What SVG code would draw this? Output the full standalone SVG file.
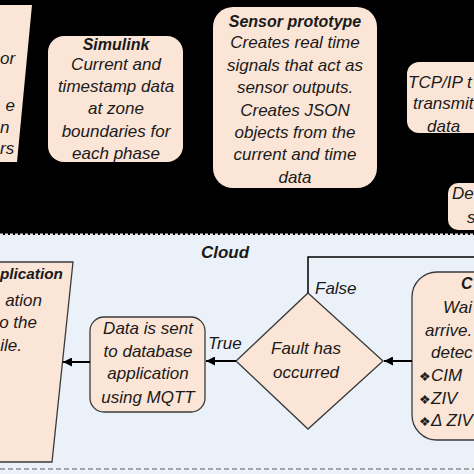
<svg xmlns="http://www.w3.org/2000/svg" width="474" height="474" viewBox="0 0 474 474">
<style>
.n{fill:#fbe5d6}
.s{stroke:#3a3a3a;stroke-width:1.3}
text{font-family:"Liberation Sans",Arial,sans-serif;font-style:italic;font-size:17px;fill:#1a1a1a}
.b{font-weight:bold;font-size:16px}
.c{text-anchor:middle}
.e{text-anchor:end}
.bu{font-size:13px;font-style:normal}
.ln{fill:none;stroke:#000;stroke-width:2}
</style>
<defs>
<marker id="ah" markerUnits="userSpaceOnUse" markerWidth="10" markerHeight="9" refX="9" refY="4.5" orient="auto">
<path d="M0,0 L9,4.5 L0,9 z" fill="#000"/>
</marker>
</defs>
<rect x="0" y="0" width="474" height="235" fill="#000"/>
<rect x="0" y="235" width="474" height="239" fill="#ebf1f9"/>
<line x1="0" y1="234.5" x2="474" y2="234.5" stroke="#e6e6e6" stroke-width="2" stroke-dasharray="3 2"/>
<line x1="0" y1="469" x2="474" y2="469" stroke="#a6a6a6" stroke-width="2" stroke-dasharray="5 3"/>
<text class="b c" x="225" y="258" style="font-size:17px">Cloud</text>

<g id="node-left-top">
<polygon class="n" points="-30,5 32,5 17,162 -30,162"/>
<text x="0" y="64">or</text>
<text class="e" x="15" y="111">e</text>
<text x="0" y="133">n</text>
<text x="0" y="154">rs</text>
</g>
<g id="node-simulink">
<rect class="n" x="48" y="36" width="135" height="126" rx="16"/>
<text class="b c" x="116" y="50">Simulink</text>
<text class="c" x="116" y="70">Current and</text>
<text class="c" x="116" y="92">timestamp data</text>
<text class="c" x="116" y="114">at zone</text>
<text class="c" x="116" y="137">boundaries for</text>
<text class="c" x="116" y="159">each phase</text>
</g>
<g id="node-sensor">
<rect class="n" x="213" y="7" width="164" height="181" rx="20"/>
<text class="b c" x="295" y="27">Sensor prototype</text>
<text class="c" x="295" y="48">Creates real time</text>
<text class="c" x="295" y="71">signals that act as</text>
<text class="c" x="295" y="93">sensor outputs.</text>
<text class="c" x="295" y="116">Creates JSON</text>
<text class="c" x="295" y="138">objects from the</text>
<text class="c" x="295" y="160">current and time</text>
<text class="c" x="295" y="183">data</text>
</g>
<g id="node-tcp">
<rect class="n" x="407" y="62" width="80" height="71" rx="12"/>
<text x="408" y="88">TCP/IP t</text>
<text x="413" y="109">transmit</text>
<text x="427" y="132">data</text>
</g>
<g id="node-de">
<rect class="n" x="448" y="183" width="40" height="47" rx="10"/>
<text x="452" y="199">De</text>
<text x="467" y="223">s</text>
</g>

<g id="node-application">
<polygon class="n s" points="-40,262 73,262 52,462 -40,462"/>
<text class="b" x="0" y="279" style="font-size:15.3px">plication</text>
<text class="e" x="42" y="306">ation</text>
<text class="e" x="37" y="328">o the</text>
<text class="e" x="22" y="351">ile.</text>
</g>
<g id="node-mqtt">
<rect class="n s" x="90" y="317" width="115" height="95" rx="14"/>
<text class="c" x="148" y="334">Data is sent</text>
<text class="c" x="148" y="357">to database</text>
<text class="c" x="148" y="379">application</text>
<text class="c" x="148" y="403">using MQTT</text>
</g>
<g id="node-fault">
<polygon class="n s" points="308,293 383,361 308,429 236,361"/>
<text class="c" x="306" y="354">Fault has</text>
<text class="c" x="306" y="378">occurred</text>
</g>
<g id="node-right">
<rect class="n s" x="412" y="272" width="90" height="168" rx="25"/>
<text class="b" x="461" y="289">C</text>
<text x="443" y="313">Wai</text>
<text x="425" y="336">arrive.</text>
<text x="431" y="358">detec</text>
<text x="419" y="381"><tspan class="bu">❖</tspan>CIM</text>
<text x="419" y="404"><tspan class="bu">❖</tspan>ZIV</text>
<text x="419" y="426"><tspan class="bu">❖</tspan>Δ ZIV</text>
</g>

<g id="connectors">
<polyline class="ln" points="308,293 308,257 474,257" style="stroke-width:1.5"/>
<line class="ln" x1="412" y1="361" x2="384" y2="361" marker-end="url(#ah)"/>
<line class="ln" x1="236" y1="361" x2="206" y2="361" marker-end="url(#ah)"/>
<line class="ln" x1="90" y1="362" x2="63" y2="362" marker-end="url(#ah)"/>
<text x="208" y="349">True</text>
<text x="315" y="294">False</text>
</g>
</svg>
